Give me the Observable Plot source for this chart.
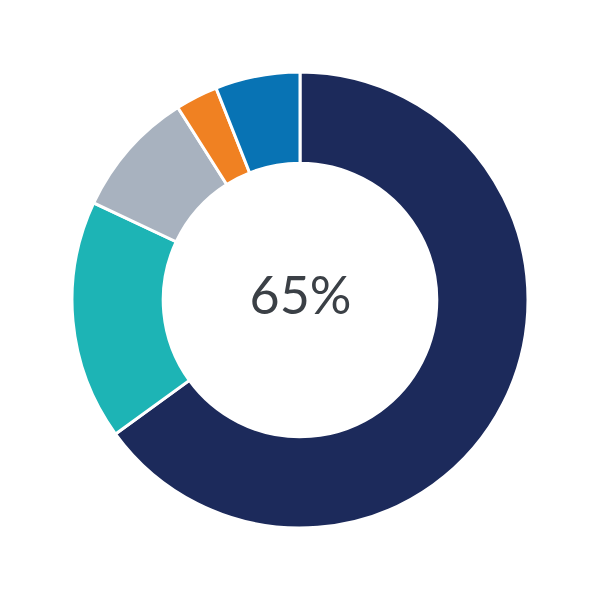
<!DOCTYPE html>
<html>
<head>
<meta charset="utf-8">
<script src="https://cdn.jsdelivr.net/npm/d3@7"></script>
<script src="https://cdn.jsdelivr.net/npm/@observablehq/plot@0.6"></script>
<style>
  html, body { margin: 0; padding: 0; background: #ffffff; }
  #chart { width: 600px; height: 600px; }
</style>
</head>
<body>
<div id="chart"></div>
<script>
// Data (clockwise from 12 o'clock)
const categories = ["A", "B", "C", "D", "E"];
const values = [65, 17, 9, 3, 6];
const colors = ["#1c2a5b", "#1db4b5", "#a8b2bf", "#f08122", "#0873b4"];
const centerLabel = "65%";

const data = categories.map((c, i) => ({category: c, value: values[i]}));
const colorScale = Plot.scale({color: {type: "ordinal", domain: categories, range: colors}});

const donut = (index, scales, vals, dims) => {
  const cx = dims.width / 2, cy = dims.height / 2;
  const outer = dims.width * 0.38, inner = dims.width * 0.228;
  const pie = d3.pie().sort(null).value(d => d.value)(data);
  const arc = d3.arc().innerRadius(inner).outerRadius(outer);
  const g = d3.create("svg:g").attr("transform", `translate(${cx},${cy})`);
  g.selectAll("path").data(pie).join("path")
    .attr("d", arc)
    .attr("fill", d => colorScale.apply(d.data.category))
    .attr("stroke", "#ffffff")
    .attr("stroke-width", 3)
    .attr("stroke-linejoin", "miter");
  return g.node();
};

const chart = Plot.plot({
  width: 600,
  height: 600,
  margin: 0,
  style: {background: "#ffffff"},
  marks: [
    donut,
    Plot.text([centerLabel], {
      text: d => d,
      frameAnchor: "middle",
      dy: -3,
      fontSize: 52,
      fontWeight: 400,
      fontFamily: "Lato",
      fill: "#3b4046"
    })
  ]
});
document.getElementById("chart").appendChild(chart);
</script>
</body>
</html>
